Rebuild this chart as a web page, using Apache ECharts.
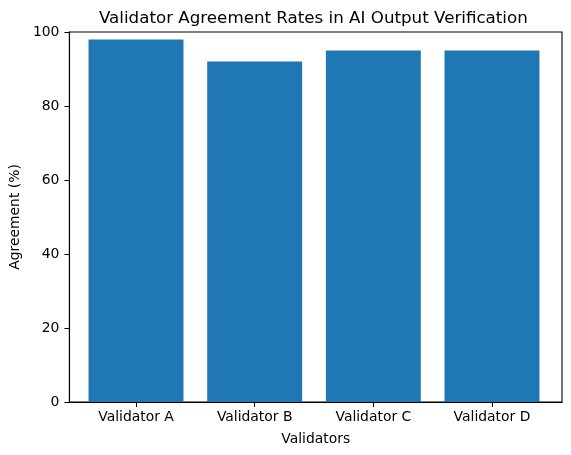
<!DOCTYPE html>
<html><head><meta charset="utf-8">
<script src="https://cdn.jsdelivr.net/npm/echarts@6/dist/echarts.min.js"></script>
<style>html,body{margin:0;padding:0;background:#fff}#c{width:571px;height:455px}</style>
</head><body><div id="c"></div>
<script>
var categories = ['Validator A', 'Validator B', 'Validator C', 'Validator D'];
var agreement = [98, 92, 95, 95];
var yTicks = [0, 20, 40, 60, 80, 100];

var chart = echarts.init(document.getElementById('c'), null, { renderer: 'canvas' });
var font = 'DejaVu Sans';
var fs = 13.9;
// frame grid: x from 66 to 562 (xlim -0.59..3.59), bar grid: bands of the categories
var pxPerUnit = 496 / 4.18;
var bandInset = 0.09 * pxPerUnit;
chart.setOption({
  animation: false,
  title: {
    text: 'Validator Agreement Rates in AI Output Verification',
    left: 99, top: 10, padding: 0,
    textStyle: { fontFamily: font, fontSize: 16.7, fontWeight: 'normal', color: '#000' }
  },
  grid: [
    { left: 66, right: 9, top: 32, bottom: 53, show: true, borderColor: '#000', borderWidth: 1.1, backgroundColor: 'transparent' },
    { left: 66 + bandInset, right: 9 + bandInset, top: 32, bottom: 53, show: false }
  ],
  xAxis: [
    {
      gridIndex: 0, type: 'value', min: 0, max: 1,
      name: 'Validators', nameLocation: 'middle', nameGap: 30,
      nameTextStyle: { fontFamily: font, fontSize: fs, color: '#000' },
      axisLine: { show: true, lineStyle: { color: '#000', width: 1.1 } },
      axisTick: { show: false }, axisLabel: { show: false }, splitLine: { show: false }
    },
    {
      gridIndex: 1, type: 'category', data: categories, boundaryGap: true,
      axisLine: { show: false },
      axisTick: { show: true, alignWithLabel: true, length: 5, lineStyle: { color: '#000', width: 1 } },
      axisLabel: { margin: 8, fontFamily: font, fontSize: fs, color: '#000' },
      splitLine: { show: false }
    }
  ],
  yAxis: [
    {
      gridIndex: 0, type: 'value', min: 0, max: 100, interval: 20,
      name: 'Agreement (%)', nameLocation: 'middle', nameGap: 44,
      nameTextStyle: { fontFamily: font, fontSize: fs, color: '#000' },
      axisLine: { show: true, lineStyle: { color: '#000', width: 1.1 } },
      axisTick: { show: true, length: 5, lineStyle: { color: '#000' } },
      axisLabel: { margin: 10, fontFamily: font, fontSize: fs, color: '#000',
        formatter: function (v) { return yTicks.indexOf(v) >= 0 ? String(v) : ''; } },
      splitLine: { show: false }
    },
    {
      gridIndex: 1, type: 'value', min: 0, max: 100, interval: 20,
      axisLine: { show: false }, axisTick: { show: false }, axisLabel: { show: false }, splitLine: { show: false }
    }
  ],
  series: [{
    type: 'bar', xAxisIndex: 1, yAxisIndex: 1,
    barWidth: '80%',
    data: agreement,
    itemStyle: { color: '#1f77b4' }
  }]
});
</script></body></html>
